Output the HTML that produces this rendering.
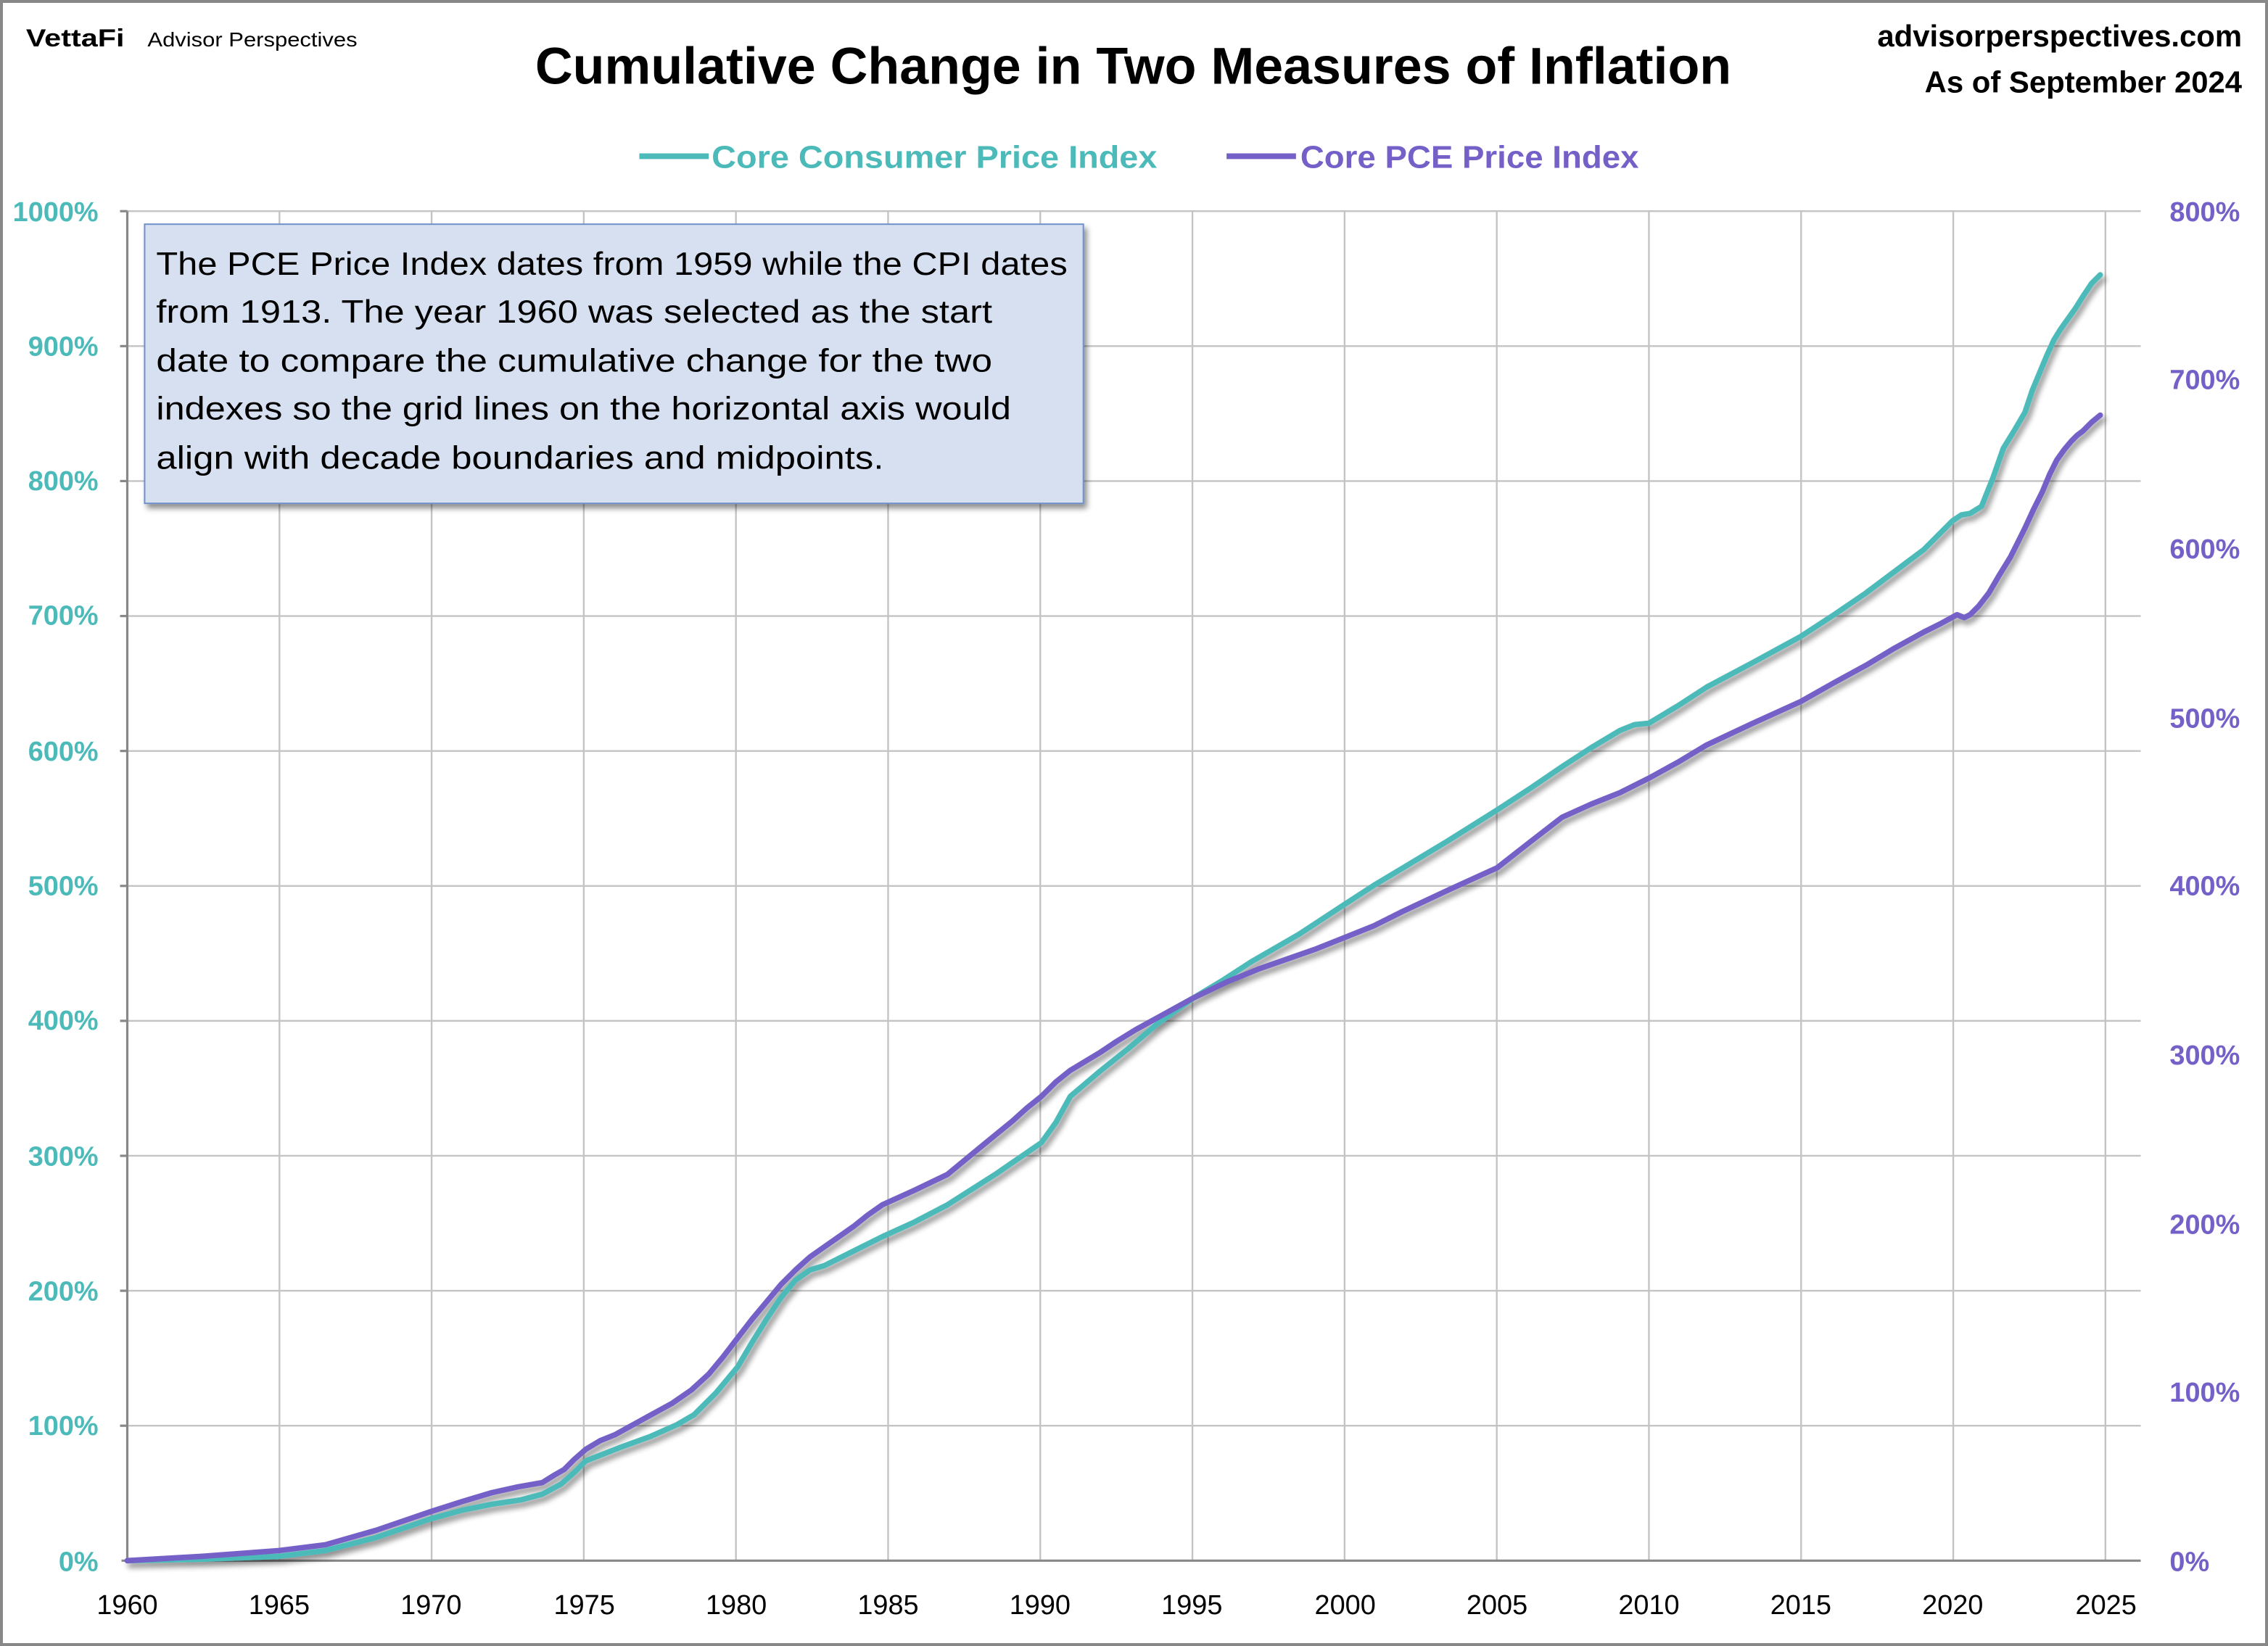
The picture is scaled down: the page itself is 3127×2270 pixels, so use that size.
<!DOCTYPE html>
<html><head><meta charset="utf-8"><style>html,body{margin:0;padding:0;background:#fff}svg{display:block}</style></head>
<body>
<svg width="3127" height="2270" viewBox="0 0 1568 1138" preserveAspectRatio="none" xmlns="http://www.w3.org/2000/svg" font-family="'Liberation Sans', sans-serif">
<defs>
<filter id="sh" x="-5%" y="-5%" width="110%" height="110%"><feGaussianBlur in="SourceAlpha" stdDeviation="2"/><feOffset dx="2" dy="3"/><feComponentTransfer><feFuncA type="linear" slope="0.45"/></feComponentTransfer><feMerge><feMergeNode/><feMergeNode in="SourceGraphic"/></feMerge></filter>
</defs>
<rect x="1" y="1" width="1566" height="1136" fill="#fff" stroke="#888" stroke-width="2"/>
<text x="18" y="32" font-size="17" font-weight="bold" textLength="68" lengthAdjust="spacingAndGlyphs">VettaFi</text>
<text x="102" y="32" font-size="14" textLength="145" lengthAdjust="spacingAndGlyphs">Advisor Perspectives</text>
<text x="370" y="58" font-size="36" font-weight="bold" textLength="827" lengthAdjust="spacingAndGlyphs">Cumulative Change in Two Measures of Inflation</text>
<text x="1550" y="32" font-size="21" font-weight="bold" text-anchor="end">advisorperspectives.com</text>
<text x="1550" y="64" font-size="21" font-weight="bold" text-anchor="end">As of September 2024</text>
<line x1="442" y1="108" x2="490" y2="108" stroke="#4dbaba" stroke-width="4"/>
<text x="492" y="116" font-size="22" font-weight="bold" fill="#4dbaba" textLength="308" lengthAdjust="spacingAndGlyphs">Core Consumer Price Index</text>
<line x1="848" y1="108" x2="896" y2="108" stroke="#7560c8" stroke-width="4"/>
<text x="899" y="116" font-size="22" font-weight="bold" fill="#7560c8" textLength="234" lengthAdjust="spacingAndGlyphs">Core PCE Price Index</text>
<g stroke="#c4c4c4" stroke-width="1.2">
<line x1="88" y1="146" x2="1480" y2="146"/><line x1="88" y1="239.3" x2="1480" y2="239.3"/><line x1="88" y1="332.6" x2="1480" y2="332.6"/><line x1="88" y1="425.9" x2="1480" y2="425.9"/><line x1="88" y1="519.2" x2="1480" y2="519.2"/><line x1="88" y1="612.5" x2="1480" y2="612.5"/><line x1="88" y1="705.8" x2="1480" y2="705.8"/><line x1="88" y1="799.1" x2="1480" y2="799.1"/><line x1="88" y1="892.4" x2="1480" y2="892.4"/><line x1="88" y1="985.7" x2="1480" y2="985.7"/>
<line x1="193.2" y1="146" x2="193.2" y2="1079"/><line x1="298.4" y1="146" x2="298.4" y2="1079"/><line x1="403.6" y1="146" x2="403.6" y2="1079"/><line x1="508.8" y1="146" x2="508.8" y2="1079"/><line x1="614" y1="146" x2="614" y2="1079"/><line x1="719.2" y1="146" x2="719.2" y2="1079"/><line x1="824.4" y1="146" x2="824.4" y2="1079"/><line x1="929.6" y1="146" x2="929.6" y2="1079"/><line x1="1034.8" y1="146" x2="1034.8" y2="1079"/><line x1="1140" y1="146" x2="1140" y2="1079"/><line x1="1245.2" y1="146" x2="1245.2" y2="1079"/><line x1="1350.4" y1="146" x2="1350.4" y2="1079"/><line x1="1455.6" y1="146" x2="1455.6" y2="1079"/>
</g>
<g stroke="#888" stroke-width="1.6">
<line x1="88" y1="146" x2="88" y2="1080"/><line x1="84" y1="1079" x2="1480" y2="1079"/>
<line x1="83" y1="146" x2="88" y2="146"/><line x1="83" y1="985.7" x2="88" y2="985.7"/><line x1="83" y1="892.4" x2="88" y2="892.4"/><line x1="83" y1="799.1" x2="88" y2="799.1"/><line x1="83" y1="705.8" x2="88" y2="705.8"/><line x1="83" y1="612.5" x2="88" y2="612.5"/><line x1="83" y1="519.2" x2="88" y2="519.2"/><line x1="83" y1="425.9" x2="88" y2="425.9"/><line x1="83" y1="332.6" x2="88" y2="332.6"/><line x1="83" y1="239.3" x2="88" y2="239.3"/>
</g>
<g font-size="19" font-weight="bold" fill="#4dbaba" text-anchor="end">
<text x="68" y="153">1000%</text><text x="68" y="246">900%</text><text x="68" y="339">800%</text><text x="68" y="432">700%</text><text x="68" y="526">600%</text><text x="68" y="619">500%</text><text x="68" y="712">400%</text><text x="68" y="806">300%</text><text x="68" y="899">200%</text><text x="68" y="992">100%</text><text x="68" y="1086">0%</text>
</g>
<g font-size="19" font-weight="bold" fill="#7560c8">
<text x="1500" y="153">800%</text><text x="1500" y="269">700%</text><text x="1500" y="386">600%</text><text x="1500" y="503">500%</text><text x="1500" y="619">400%</text><text x="1500" y="736">300%</text><text x="1500" y="853">200%</text><text x="1500" y="969">100%</text><text x="1500" y="1086">0%</text>
</g>
<g font-size="19" text-anchor="middle" fill="#000">
<text x="88" y="1116">1960</text><text x="193" y="1116">1965</text><text x="298" y="1116">1970</text><text x="404" y="1116">1975</text><text x="509" y="1116">1980</text><text x="614" y="1116">1985</text><text x="719" y="1116">1990</text><text x="824" y="1116">1995</text><text x="930" y="1116">2000</text><text x="1035" y="1116">2005</text><text x="1140" y="1116">2010</text><text x="1245" y="1116">2015</text><text x="1350" y="1116">2020</text><text x="1456" y="1116">2025</text>
</g>
<g fill="none" stroke-linejoin="round" stroke-linecap="round" filter="url(#sh)">
<polyline stroke="#4dbaba" stroke-width="3.8" points="88,1079 140,1078 193,1076 225,1072 260,1063 298,1050 320,1044 340,1040 360,1037 375,1033 388,1026 397,1018 405,1010 428,1001 450,993 468,985 480,978 495,963 510,945 520,928 530,912 540,897 550,885 560,878 570,875 590,865 610,855 632,845 655,833 688,812 720,790 730,776 740,758 760,741 780,725 800,708 825,690 845,678 865,665 898,646 930,625 950,612 970,600 1000,582 1035,560 1058,545 1080,530 1100,517 1120,505 1130,501 1140,500 1160,488 1180,475 1212,458 1245,440 1268,425 1290,410 1310,395 1330,380 1342,368 1350,360 1356,356 1362,355 1370,350 1378,330 1385,310 1393,297 1400,285 1405,270 1410,258 1415,246 1420,235 1425,227 1430,220 1435,213 1440,205 1446,196 1452,190"/>
<polyline stroke="#7560c8" stroke-width="3.8" points="88,1079 140,1076 193,1072 225,1068 260,1058 298,1045 320,1038 340,1032 358,1028 375,1025 383,1020 390,1016 397,1009 405,1002 415,996 425,992 445,981 465,970 478,961 490,950 500,938 510,925 520,912 530,900 540,888 550,878 560,869 570,862 580,855 590,848 600,840 610,833 632,823 655,812 678,793 700,775 710,766 720,758 730,748 740,740 750,734 760,728 772,720 785,712 805,701 825,690 848,679 870,670 890,663 910,656 930,648 950,640 970,630 1002,615 1035,600 1058,582 1080,565 1100,556 1120,548 1130,543 1140,538 1160,527 1180,515 1212,500 1245,485 1268,472 1290,460 1310,448 1330,437 1342,431 1353,425 1358,427 1362,425 1368,419 1375,410 1382,398 1390,385 1395,375 1400,365 1406,352 1412,340 1417,328 1422,318 1427,311 1432,305 1436,301 1440,298 1446,292 1452,287"/>
</g>
<rect x="100" y="155" width="649" height="193" fill="#d6e0f1" stroke="#7090c8" stroke-width="1" filter="url(#sh)"/>
<g font-size="22.5" fill="#000">
<text x="108" y="190" textLength="630" lengthAdjust="spacingAndGlyphs">The PCE Price Index dates from 1959 while the CPI dates</text>
<text x="108" y="223" textLength="578" lengthAdjust="spacingAndGlyphs">from 1913.  The year 1960 was selected as the start</text>
<text x="108" y="257" textLength="578" lengthAdjust="spacingAndGlyphs">date to compare the cumulative change for the two</text>
<text x="108" y="290" textLength="591" lengthAdjust="spacingAndGlyphs">indexes so the grid lines on the horizontal axis would</text>
<text x="108" y="324" textLength="503" lengthAdjust="spacingAndGlyphs">align with decade boundaries and midpoints.</text>
</g>
</svg>
</body></html>
